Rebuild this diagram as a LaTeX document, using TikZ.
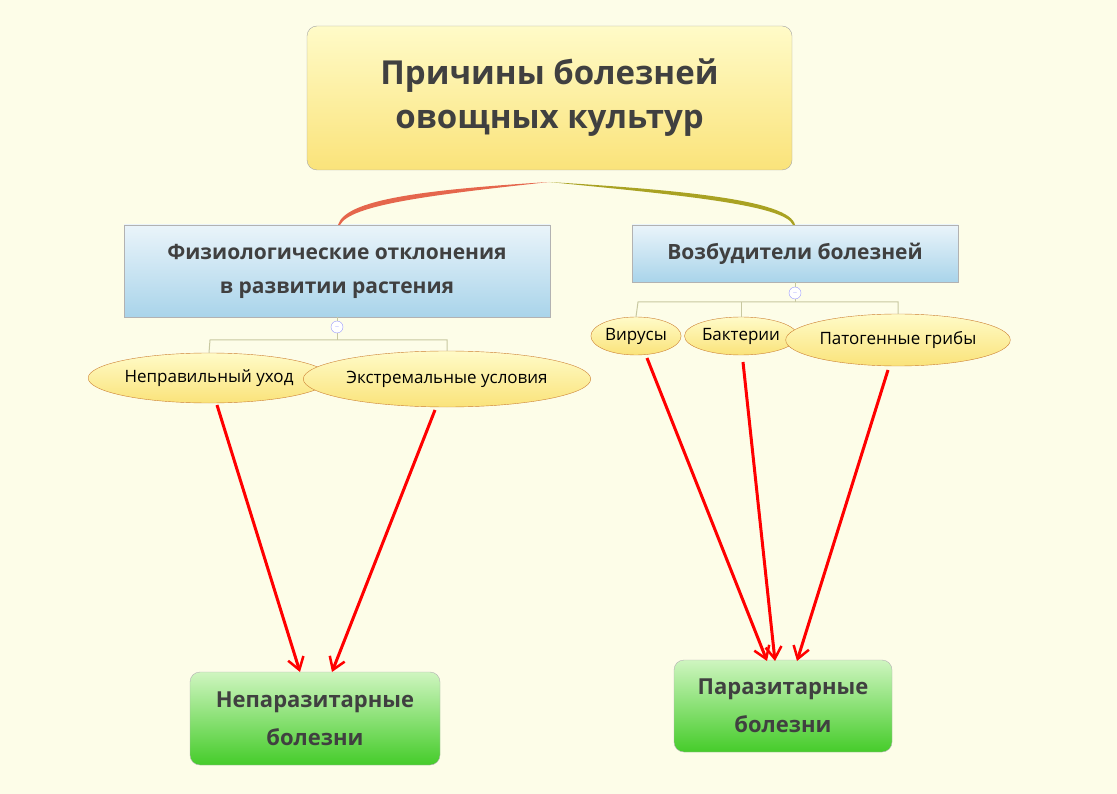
\documentclass[tikz,border=0pt]{standalone}
\usepackage{fontspec}
\setmainfont{Open Sans}
\usetikzlibrary{arrows.meta,shapes.geometric}
\definecolor{bg}{HTML}{FDFDE8}
\definecolor{txt}{HTML}{404040}
\definecolor{ytop}{HTML}{FFFBC8}
\definecolor{ybot}{HTML}{FAE37A}
\definecolor{btop}{HTML}{EAF4FA}
\definecolor{bbot}{HTML}{A9D4EA}
\definecolor{gtop}{HTML}{CFF5C0}
\definecolor{gbot}{HTML}{45CC2A}
\definecolor{ln}{HTML}{C8C8A0}
\tikzset{
 x=1pt,y=-1pt,
 topbox/.style={draw=gray!70,rounded corners=10pt,top color=ytop,bottom color=ybot,text=txt,font=\bfseries\fontsize{33}{44}\selectfont,align=center,minimum width=485pt,minimum height=144pt},
 midbox/.style={draw=gray!60,top color=btop,bottom color=bbot,text=txt,font=\bfseries\fontsize{21}{34}\selectfont,align=center},
 ell/.style={ellipse,draw=orange!60!gray,top color=ytop,bottom color=ybot,font=\fontsize{17}{20}\selectfont,text=black,inner sep=1pt},
 grbox/.style={draw=gray!60,rounded corners=10pt,top color=gtop,bottom color=gbot,text=txt,font=\bfseries\fontsize{22}{38}\selectfont,align=center},
 redarr/.style={draw=red,line width=3pt,-{Straight Barb[length=12pt,width=16pt,line width=2.5pt]}},
 brk/.style={draw=ln,line width=1pt},
 collapse/.style={circle,draw=blue!40,fill=white,minimum size=12pt,inner sep=0pt}
}
\begin{document}
\begin{tikzpicture}
\fill[bg] (0,0) rectangle (1117,794);
\node[topbox] (top) at (549.5,98) {Причины болезней\\овощных культур};
\node[midbox,minimum width=426pt,minimum height=92pt] (left) at (337,271) {Физиологические отклонения\\в развитии растения};
\node[midbox,minimum width=326pt,minimum height=57pt] (right) at (795,253.5) {Возбудители болезней};
\coordinate (hub) at (549,185);
\fill[red!50!brown!80] (hub)+(0,-3) .. controls (420,190) and (345,200) .. (338,225) -- (340,225) .. controls (350,205) and (430,195) .. ([yshift=3]hub) -- cycle;
\fill[olive!70!yellow!80!gray] (hub)+(0,-3) .. controls (680,190) and (790,200) .. (795,225) -- (793,225) .. controls (785,205) and (680,195) .. ([yshift=3]hub) -- cycle;
\node[ell,minimum width=212pt,minimum height=50pt] (e1) at (209,378) {Неправильный уход};
\node[ell,minimum width=252pt,minimum height=56pt] (e2) at (447,379) {Экстремальные условия};
\node[ell,minimum width=88pt,minimum height=38pt] (e3) at (636,336) {Вирусы};
\node[ell,minimum width=106pt,minimum height=38pt] (e4) at (741,336) {Бактерии};
\node[ell,minimum width=196pt,minimum height=52pt] (e5) at (898,340) {Патогенные грибы};
\coordinate (lb1) at (210,340); \coordinate (lb2) at (447,340);
\coordinate (rb1) at (638,302); \coordinate (rb2) at (898,302);
\draw[brk] (left.south) -- ++(0,23);
\draw[brk] (e1.north) -- (lb1) -- (lb2) -- (e2.north);
\draw[brk] (right.south) -- ++(0,20);
\draw[brk] (e3.north) -- (rb1) -- (rb2) -- (e5.north);
\draw[brk] (e4.north) -- (741,302);
\node[collapse] (m1) at (337,327) {\textcolor{blue!50}{\tiny$-$}};
\node[collapse] (m2) at (795,293) {\textcolor{blue!50}{\tiny$-$}};
\node[grbox,minimum width=250pt,minimum height=93pt] (np) at (315,718.5) {Непаразитарные\\болезни};
\node[grbox,minimum width=218pt,minimum height=92pt] (p) at (783,706) {Паразитарные\\болезни};
\coordinate (a1) at (300,672); \coordinate (a2) at (332,672);
\coordinate (a3) at (767,661); \coordinate (a4) at (775,661); \coordinate (a5) at (797,661);
\draw[redarr] (217,405) -- (a1);
\draw[redarr] (435,410) -- (a2);
\draw[redarr] (647,358) -- (a3);
\draw[redarr] (743,362) -- (a4);
\draw[redarr] (888,370) -- (a5);
\end{tikzpicture}
\end{document}
